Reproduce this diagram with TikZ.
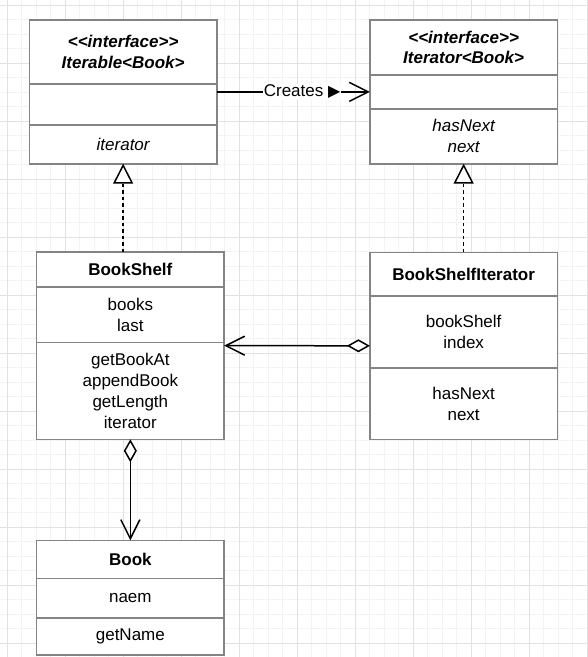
\documentclass[tikz,border=0pt]{standalone}
\usepackage{fontspec}
\newfontfamily\uifont{Liberation Sans}
\newfontfamily\symfont{DejaVu Sans}
\usetikzlibrary{arrows.meta}
\definecolor{gridmin}{HTML}{F3F3F3}
\definecolor{gridmaj}{HTML}{E2E2E2}
\definecolor{boxline}{HTML}{848484}
\begin{document}
\begin{tikzpicture}[x=1pt,y=-1pt,
  every node/.style={font=\uifont\fontsize{17}{20.8}\selectfont},
  whole/.style={draw=boxline, line width=1.6pt, inner sep=0pt, outer sep=0pt, minimum width=187.5pt},
  comp/.style={draw=boxline, line width=1.6pt, fill=white, inner sep=0pt, outer sep=0pt, align=center, minimum width=187.5pt},
  edge/.style={draw=black, line width=1.5pt},
  realize/.style={edge, dash pattern=on 3.5pt off 3pt, -{Triangle[length=20pt, width=20pt, fill=white]}},
  openarrow/.style={-{Straight Barb[length=19pt, width=19pt]}},
  aggr/.style={edge, {Diamond[length=23pt, width=13pt, fill=white]}-{Straight Barb[length=19pt, width=19pt]}},
  lbl/.style={fill=white, inner sep=1pt}
]
\useasboundingbox (0,0) rectangle (588,657);
\fill[white] (0,0) rectangle (588,657);
% grid
\foreach \k in {0,...,40} {\draw[gridmin, line width=0.8pt] (7.3+14.5*\k,0) -- (7.3+14.5*\k,657);}
\foreach \k in {0,...,44} {\draw[gridmin, line width=0.8pt] (0,5.3+14.5*\k) -- (588,5.3+14.5*\k);}
\foreach \k in {0,...,10} {\draw[gridmaj, line width=0.8pt] (7.3+58*\k,0) -- (7.3+58*\k,657);}
\foreach \k in {0,...,11} {\draw[gridmaj, line width=0.8pt] (0,5.3+58*\k) -- (588,5.3+58*\k);}

% Iterable<Book>
\node[comp, minimum height=63.7pt] (itbH) at (123.15,51.85) {\bfseries\itshape <{}<interface>{}>\\\bfseries\itshape Iterable<Book>};
\node[comp, minimum height=41pt] (itbA) at (123.15,104.2) {};
\node[comp, minimum height=39pt] (itbM) at (123.15,144.2) {\itshape iterator};
\node[whole, minimum height=143.7pt] (itb) at (123.15,91.85) {};

% Iterator<Book>
\node[comp, minimum height=55pt] (itrH) at (463.65,47.5) {\bfseries\itshape <{}<interface>{}>\\\bfseries\itshape Iterator<Book>};
\node[comp, minimum height=33.7pt] (itrA) at (463.65,91.85) {};
\node[comp, minimum height=55pt] (itrM) at (463.65,136.2) {\itshape hasNext\\\itshape next};
\node[whole, minimum height=143.7pt] (itr) at (463.65,91.85) {};

% BookShelf
\node[comp, minimum height=35pt] (bsH) at (130.35,269.5) {\bfseries BookShelf};
\node[comp, minimum height=55.3pt] (bsA) at (130.35,314.65) {books\\last};
\node[comp, minimum height=97pt] (bsM) at (130.35,390.8) {getBookAt\\appendBook\\getLength\\iterator};
\node[whole, minimum height=187.3pt] (bs) at (130.35,345.65) {};

% BookShelfIterator
\node[comp, minimum height=43.4pt] (bsiH) at (463.65,274) {\bfseries BookShelfIterator};
\node[comp, minimum height=72.3pt] (bsiA) at (463.65,331.85) {bookShelf\\index};
\node[comp, minimum height=71.3pt] (bsiM) at (463.65,403.65) {hasNext\\next};
\node[whole, minimum height=187pt] (bsi) at (463.65,345.8) {};

% Book
\node[comp, minimum height=38pt] (bookH) at (130.35,559.3) {\bfseries Book};
\node[comp, minimum height=39.4pt] (bookA) at (130.35,598) {naem};
\node[comp, minimum height=37.3pt] (bookM) at (130.35,636.35) {getName};
\node[whole, minimum height=114.7pt] (book) at (130.35,597.65) {};

% connectors
\draw[edge, openarrow] (itb.east) -- node[lbl, pos=0.557] {Creates {\symfont\fontsize{16}{16}\selectfont ▶}} (itr.west);
\draw[realize] (bs.north -| itb.south) -- (itb.south);
\draw[realize] (bsi.north -| itr.south) -- (itr.south);
\draw[aggr] (bsi.west) -- (bs.east);
\draw[aggr] (bs.south) -- (book.north);
\end{tikzpicture}
\end{document}
